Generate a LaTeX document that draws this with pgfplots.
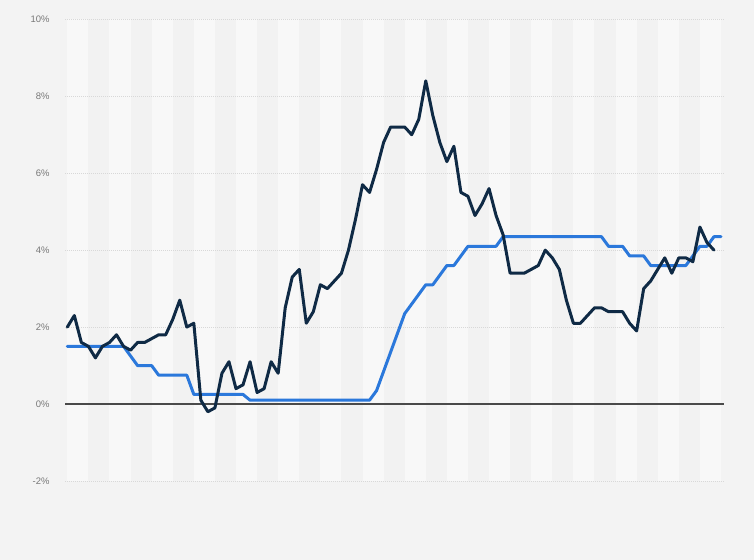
\documentclass[border=0pt]{standalone}
\usepackage{fontspec}
\setmainfont{Liberation Sans}
\usepackage{pgfplots}
\usepackage{pgfplotstable}
\pgfplotsset{compat=1.18}
\definecolor{bgout}{HTML}{F3F3F3}
\definecolor{bandlight}{HTML}{F8F8F8}
\definecolor{banddark}{HTML}{F2F2F2}
\definecolor{gridc}{HTML}{D8D8D8}
\definecolor{zeroc}{HTML}{4A4A4A}
\definecolor{tickc}{HTML}{777777}
\definecolor{navy}{HTML}{0F2A45}
\definecolor{sblue}{HTML}{2B78DB}

\pgfplotstableread{
v
2.0
2.3
1.6
1.5
1.2
1.5
1.6
1.8
1.5
1.4
1.6
1.6
1.7
1.8
1.8
2.2
2.7
2.0
2.1
0.1
-0.2
-0.1
0.8
1.1
0.4
0.5
1.1
0.3
0.4
1.1
0.8
2.5
3.3
3.5
2.1
2.4
3.1
3.0
3.2
3.4
4.0
4.8
5.7
5.5
6.1
6.8
7.2
7.2
7.2
7.0
7.4
8.4
7.5
6.8
6.3
6.7
5.5
5.4
4.9
5.2
5.6
4.9
4.4
3.4
3.4
3.4
3.5
3.6
4.0
3.8
3.5
2.7
2.1
2.1
2.3
2.5
2.5
2.4
2.4
2.4
2.1
1.9
3.0
3.2
3.5
3.8
3.4
3.8
3.8
3.7
4.6
4.2
4.0
}\inflation

\pgfplotstableread{
v
1.5
1.5
1.5
1.5
1.5
1.5
1.5
1.5
1.5
1.25
1.0
1.0
1.0
0.75
0.75
0.75
0.75
0.75
0.25
0.25
0.25
0.25
0.25
0.25
0.25
0.25
0.1
0.1
0.1
0.1
0.1
0.1
0.1
0.1
0.1
0.1
0.1
0.1
0.1
0.1
0.1
0.1
0.1
0.1
0.35
0.85
1.35
1.85
2.35
2.6
2.85
3.1
3.1
3.35
3.6
3.6
3.85
4.1
4.1
4.1
4.1
4.1
4.35
4.35
4.35
4.35
4.35
4.35
4.35
4.35
4.35
4.35
4.35
4.35
4.35
4.35
4.35
4.1
4.1
4.1
3.85
3.85
3.85
3.6
3.6
3.6
3.6
3.6
3.6
3.85
4.1
4.1
4.35
4.35
}\rate

\begin{document}
\begin{tikzpicture}
\begin{axis}[
  set layers,
  scale only axis,
  width=659bp, height=461.7bp,
  xmin=-0.327, xmax=93.427,
  ymin=-2, ymax=10,
  clip=false,
  axis line style={draw=none},
  xtick=\empty,
  ytick={-2,0,2,4,6,8,10},
  yticklabel={\pgfmathprintnumber{\tick}\%},
  /pgf/number format/assume math mode=true,
  major tick length=0pt,
  ymajorgrids,
  grid style={dash pattern=on 0.8bp off 1.2bp, color=gridc, line width=0.6bp},
  extra y ticks={0},
  extra y tick labels={},
  extra y tick style={grid style={solid, color=zeroc, line width=1.1bp}},
  yticklabel style={font=\fontsize{9.5}{11}\selectfont, color=tickc, xshift=-12bp},
]
\begin{pgfonlayer}{axis background}
\fill[bgout] ([xshift=-65bp,yshift=-79bp]rel axis cs:0,0) rectangle ([xshift=30bp,yshift=19.3bp]rel axis cs:1,1);
\fill[bandlight] (axis cs:0,-2) rectangle (axis cs:93,10);
\pgfplotsinvokeforeach{3,9,15,21,27,33,39,45,51,57,63,69,75,81,87}{
  \fill[banddark] (axis cs:#1,-2) rectangle ([xshift=21.087bp]axis cs:#1,10);
}
\end{pgfonlayer}
\addplot[sblue, line width=3bp, line join=round, line cap=round] table[x expr=\coordindex, y=v] {\rate};
\addplot[navy, line width=3bp, line join=round, line cap=round] table[x expr=\coordindex, y=v] {\inflation};
\end{axis}
\pgfresetboundingbox
\useasboundingbox (-65bp,-79bp) rectangle (689bp,481bp);
\end{tikzpicture}
\end{document}
